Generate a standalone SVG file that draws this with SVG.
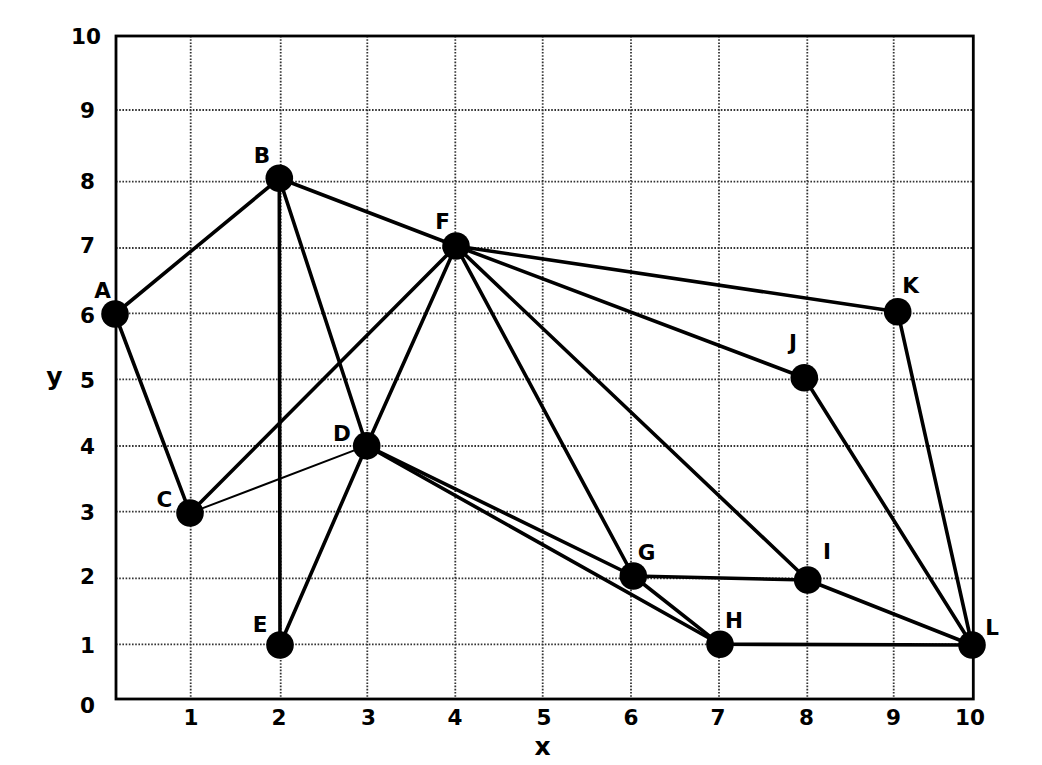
<svg xmlns="http://www.w3.org/2000/svg" width="1042" height="765" viewBox="0 0 1042 765">
<style>
.grid line{stroke:#333;stroke-width:1.8;stroke-dasharray:1.6 1.6}
.frame{fill:none;stroke:#000;stroke-width:2.8}
.tick{font-family:"DejaVu Sans",sans-serif;font-weight:bold;font-size:21.5px;fill:#000;text-anchor:middle}
.axl{font-family:"DejaVu Sans",sans-serif;font-weight:bold;font-size:25px;fill:#000;text-anchor:middle}
.lbl{font-family:"DejaVu Sans",sans-serif;font-weight:bold;font-size:21.5px;fill:#000;text-anchor:middle}
.edges line{stroke:#000;stroke-width:3.6;stroke-linecap:round}
.edges line.thin{stroke-width:1.9}
.node circle{fill:#000}
</style>
<rect width="1042" height="765" fill="#fff"/>
<g class="grid">
<line x1="190.7" y1="36" x2="190.7" y2="699"/>
<line x1="280.7" y1="36" x2="280.7" y2="699"/>
<line x1="367.3" y1="36" x2="367.3" y2="699"/>
<line x1="455.3" y1="36" x2="455.3" y2="699"/>
<line x1="542.7" y1="36" x2="542.7" y2="699"/>
<line x1="631" y1="36" x2="631" y2="699"/>
<line x1="719" y1="36" x2="719" y2="699"/>
<line x1="807.3" y1="36" x2="807.3" y2="699"/>
<line x1="893.7" y1="36" x2="893.7" y2="699"/>
<line x1="116" y1="110" x2="973" y2="110"/>
<line x1="116" y1="181.7" x2="973" y2="181.7"/>
<line x1="116" y1="248" x2="973" y2="248"/>
<line x1="116" y1="313.3" x2="973" y2="313.3"/>
<line x1="116" y1="379.3" x2="973" y2="379.3"/>
<line x1="116" y1="446" x2="973" y2="446"/>
<line x1="116" y1="511.7" x2="973" y2="511.7"/>
<line x1="116" y1="578.3" x2="973" y2="578.3"/>
<line x1="116" y1="644.3" x2="973" y2="644.3"/>
</g>
<rect class="frame" x="116" y="36" width="857.3" height="663"/>
<g id="ticks">
<text class="tick" x="86" y="43.5">10</text>
<text class="tick" x="87.5" y="117.5">9</text>
<text class="tick" x="87.5" y="188.5">8</text>
<text class="tick" x="87.5" y="253">7</text>
<text class="tick" x="87.5" y="323">6</text>
<text class="tick" x="87.5" y="387.5">5</text>
<text class="tick" x="87.5" y="453.5">4</text>
<text class="tick" x="87.5" y="520">3</text>
<text class="tick" x="87.5" y="583.5">2</text>
<text class="tick" x="87.5" y="652.5">1</text>
<text class="tick" x="87.5" y="712.5">0</text>
<text class="tick" x="191" y="725">1</text>
<text class="tick" x="279" y="725">2</text>
<text class="tick" x="368.5" y="725">3</text>
<text class="tick" x="455" y="725">4</text>
<text class="tick" x="544" y="725">5</text>
<text class="tick" x="631" y="725">6</text>
<text class="tick" x="718" y="725">7</text>
<text class="tick" x="806.5" y="725">8</text>
<text class="tick" x="893.5" y="725">9</text>
<text class="tick" x="970" y="725">10</text>
<text class="axl" x="542.5" y="755">x</text>
<text class="axl" x="54.5" y="385">y</text>
</g>
<g class="edges" id="connectors">
<line x1="115" y1="314" x2="279.3" y2="178.3"/>
<line x1="115" y1="314" x2="190" y2="513"/>
<line x1="279.3" y1="178.3" x2="456" y2="246"/>
<line x1="279.3" y1="178.3" x2="280" y2="645"/>
<line x1="279.3" y1="178.3" x2="366.7" y2="445.7"/>
<line x1="456" y1="246" x2="190" y2="513"/>
<line x1="456" y1="246" x2="366.7" y2="445.7"/>
<line x1="456" y1="246" x2="633.3" y2="576"/>
<line x1="456" y1="246" x2="807.7" y2="580"/>
<line x1="456" y1="246" x2="804.3" y2="377.7"/>
<line x1="456" y1="246" x2="897.7" y2="311.7"/>
<line class="thin" x1="190" y1="513" x2="366.7" y2="445.7"/>
<line x1="366.7" y1="445.7" x2="280" y2="645"/>
<line x1="366.7" y1="445.7" x2="633.3" y2="576"/>
<line x1="366.7" y1="445.7" x2="720" y2="644.3"/>
<line x1="633.3" y1="576" x2="807.7" y2="580"/>
<line x1="633.3" y1="576" x2="720" y2="644.3"/>
<line x1="807.7" y1="580" x2="972" y2="645"/>
<line x1="720" y1="644.3" x2="972" y2="645"/>
<line x1="804.3" y1="377.7" x2="972" y2="645"/>
<line x1="897.7" y1="311.7" x2="972" y2="645"/>
</g>
<g id="A" class="node"><circle cx="115" cy="314" r="13.8"/><text class="lbl" x="102.5" y="298">A</text></g>
<g id="B" class="node"><circle cx="279.3" cy="178.3" r="13.8"/><text class="lbl" x="262" y="163">B</text></g>
<g id="C" class="node"><circle cx="190" cy="513" r="13.8"/><text class="lbl" x="164.5" y="507">C</text></g>
<g id="D" class="node"><circle cx="366.7" cy="445.7" r="13.8"/><text class="lbl" x="342" y="441">D</text></g>
<g id="E" class="node"><circle cx="280" cy="645" r="13.8"/><text class="lbl" x="260" y="632">E</text></g>
<g id="F" class="node"><circle cx="456" cy="246" r="13.8"/><text class="lbl" x="442.5" y="229">F</text></g>
<g id="G" class="node"><circle cx="633.3" cy="576" r="13.8"/><text class="lbl" x="646.5" y="560">G</text></g>
<g id="H" class="node"><circle cx="720" cy="644.3" r="13.8"/><text class="lbl" x="734" y="628">H</text></g>
<g id="I" class="node"><circle cx="807.7" cy="580" r="13.8"/><text class="lbl" x="827" y="559">I</text></g>
<g id="J" class="node"><circle cx="804.3" cy="377.7" r="13.8"/><text class="lbl" x="793" y="350">J</text></g>
<g id="K" class="node"><circle cx="897.7" cy="311.7" r="13.8"/><text class="lbl" x="910.5" y="293">K</text></g>
<g id="L" class="node"><circle cx="972" cy="645" r="13.8"/><text class="lbl" x="992" y="635">L</text></g>
</svg>
